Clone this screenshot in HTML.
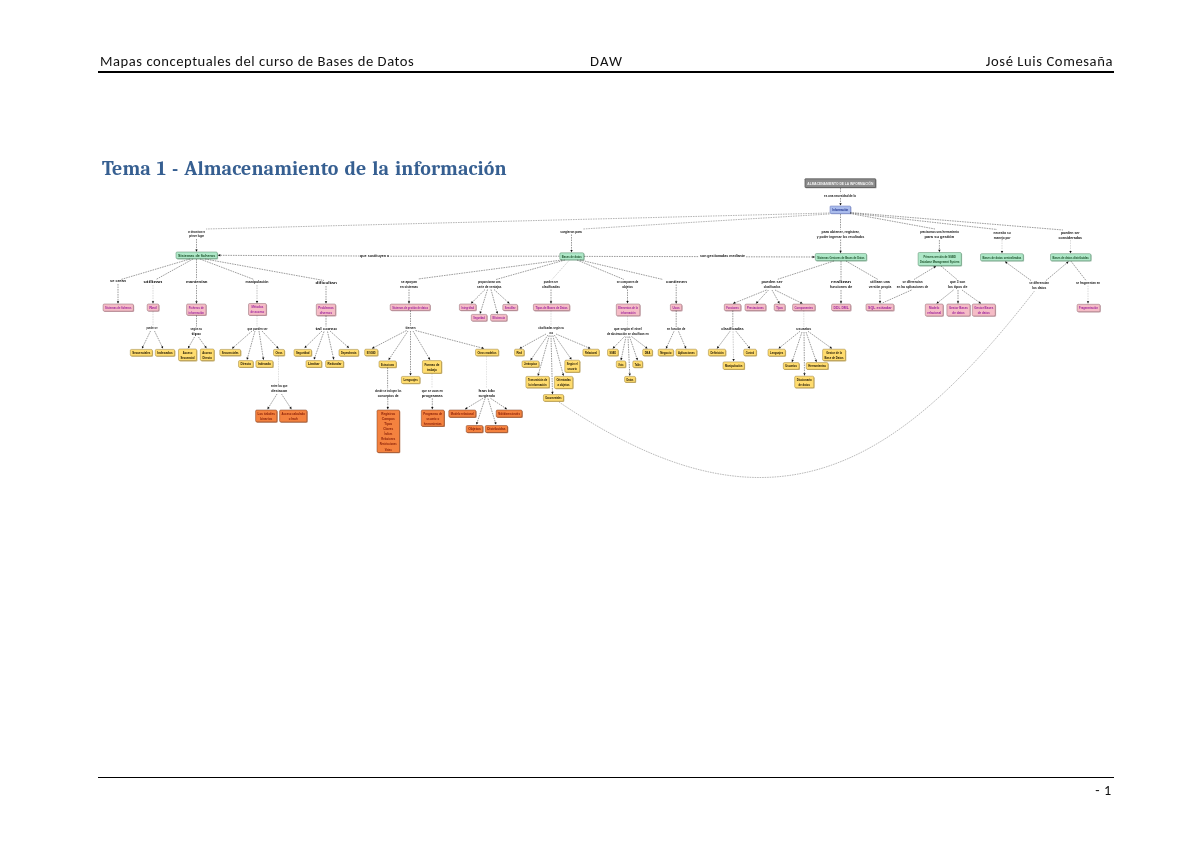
<!DOCTYPE html>
<html lang="es">
<head>
<meta charset="utf-8">
<title>Mapas conceptuales del curso de Bases de Datos</title>
<style>
html,body{margin:0;padding:0;background:#fff;}
body{width:1200px;height:849px;position:relative;overflow:hidden;}
.hd{will-change:transform;position:absolute;font-family:"Carlito","Liberation Sans",sans-serif;font-size:14.6px;color:#111;white-space:nowrap;line-height:1;}
.rule{position:absolute;background:#000;}
.title{will-change:transform;position:absolute;left:101px;top:159px;font-family:"Caladea","Liberation Serif",serif;font-weight:bold;font-size:20px;color:#365f91;white-space:nowrap;line-height:1;letter-spacing:0.33px;}
svg{position:absolute;left:0;top:0;will-change:transform;}
svg text{font-family:"Liberation Sans",Arial,sans-serif;text-anchor:middle;}
</style>
</head>
<body>
<svg width="1200" height="849" viewBox="0 0 1200 849">
<text x="100" y="65.7" font-size="14.6" fill="#111" style="font-family:Carlito,'Liberation Sans',sans-serif;text-anchor:start" textLength="313.8" lengthAdjust="spacing">Mapas conceptuales del curso de Bases de Datos</text>
<text x="590" y="65.7" font-size="14.6" fill="#111" style="font-family:Carlito,'Liberation Sans',sans-serif;text-anchor:start" textLength="32.0" lengthAdjust="spacing">DAW</text>
<text x="985.8" y="65.7" font-size="14.6" fill="#111" style="font-family:Carlito,'Liberation Sans',sans-serif;text-anchor:start" textLength="126.6" lengthAdjust="spacing">José Luis Comesaña</text>
<text x="102" y="175.0" font-size="20" font-weight="bold" fill="#365f91" textLength="404.6" lengthAdjust="spacing" style="font-family:Caladea,'Liberation Serif',serif;text-anchor:start;word-spacing:1.5px">Tema 1 - Almacenamiento de la información</text>
<text x="1095.3" y="794.9" font-size="14.2" fill="#111" style="font-family:Carlito,'Liberation Sans',sans-serif;text-anchor:start" textLength="15.8" lengthAdjust="spacing">- 1</text>
<rect x="805.80" y="179.60" width="70.60" height="8.70" rx="0.4" fill="#6a6a6a" opacity="0.75"/>
<rect x="805.00" y="178.80" width="70.60" height="8.70" rx="0.4" fill="#8a8a8a" stroke="#5a5a5a" stroke-width="0.8"/>
<text x="840.30" y="184.70" font-size="4.3" fill="#f4f4f4" font-weight="bold" textLength="66.00" lengthAdjust="spacingAndGlyphs">ALMACENAMIENTO DE LA INFORMACIÓN</text>
<line x1="840.50" y1="188.00" x2="840.50" y2="205.50" stroke="#3a3a3a" stroke-width="0.5" stroke-dasharray="1.6 0.9"/>
<path d="M840.50,205.50 L839.30,203.20 L841.70,203.20 Z" fill="#111"/>
<rect x="822" y="193.2" width="36" height="4.6" fill="#fff"/>
<text x="840.00" y="196.55" font-size="4.3" fill="#111" font-weight="bold" textLength="32.00" lengthAdjust="spacingAndGlyphs">es una necesidad de la</text>
<rect x="830.80" y="206.80" width="20.60" height="7.50" rx="0.8" fill="#8090c8" opacity="0.75"/>
<rect x="830.00" y="206.00" width="20.60" height="7.50" rx="0.8" fill="#aabcec" stroke="#6676b8" stroke-width="0.5"/>
<text x="840.30" y="211.23" font-size="4.1" fill="#1c2f8c" font-weight="bold" textLength="16.00" lengthAdjust="spacingAndGlyphs">Información</text>
<line x1="829.50" y1="213.00" x2="206.00" y2="229.00" stroke="#3a3a3a" stroke-width="0.5" stroke-dasharray="1.6 0.9" opacity="0.75"/>
<line x1="829.50" y1="214.00" x2="583.00" y2="229.00" stroke="#3a3a3a" stroke-width="0.5" stroke-dasharray="1.6 0.9" opacity="0.75"/>
<line x1="850.00" y1="213.50" x2="935.00" y2="229.00" stroke="#3a3a3a" stroke-width="0.5" stroke-dasharray="1.6 0.9"/>
<line x1="850.00" y1="213.00" x2="997.00" y2="229.50" stroke="#3a3a3a" stroke-width="0.5" stroke-dasharray="1.6 0.9"/>
<line x1="850.00" y1="212.50" x2="1063.00" y2="230.00" stroke="#3a3a3a" stroke-width="0.5" stroke-dasharray="1.6 0.9"/>
<line x1="840.50" y1="214.00" x2="840.50" y2="229.50" stroke="#3a3a3a" stroke-width="0.5" stroke-dasharray="1.6 0.9"/>
<text x="840.60" y="233.05" font-size="4.3" fill="#111" font-weight="bold" textLength="38.00" lengthAdjust="spacingAndGlyphs">para obtener, registrar,</text>
<text x="840.60" y="237.85" font-size="4.3" fill="#111" font-weight="bold" textLength="47.50" lengthAdjust="spacingAndGlyphs">y poder ingresar los resultados</text>
<line x1="840.60" y1="239.50" x2="840.60" y2="253.00" stroke="#3a3a3a" stroke-width="0.5" stroke-dasharray="1.6 0.9"/>
<path d="M840.60,253.00 L839.40,250.70 L841.80,250.70 Z" fill="#111"/>
<text x="196.50" y="232.95" font-size="4.3" fill="#111" font-weight="bold" textLength="17.00" lengthAdjust="spacingAndGlyphs">se denominan en</text>
<text x="196.50" y="237.45" font-size="4.3" fill="#111" font-weight="bold" textLength="15.00" lengthAdjust="spacingAndGlyphs">primer lugar</text>
<line x1="196.50" y1="239.00" x2="196.50" y2="251.80" stroke="#3a3a3a" stroke-width="0.5" stroke-dasharray="1.6 0.9"/>
<path d="M196.50,251.80 L195.30,249.50 L197.70,249.50 Z" fill="#111"/>
<rect x="176.80" y="252.80" width="41.30" height="6.60" rx="1.2" fill="#7aa88c" opacity="0.75"/>
<rect x="176.00" y="252.00" width="41.30" height="6.60" rx="1.2" fill="#aee8c8" stroke="#5a8a6c" stroke-width="0.5"/>
<text x="196.65" y="256.78" font-size="4.1" fill="#1a4f28" font-weight="bold" textLength="37.30" lengthAdjust="spacingAndGlyphs">Sistemas de ficheros</text>
<line x1="559.50" y1="256.20" x2="390.00" y2="256.20" stroke="#3a3a3a" stroke-width="0.5" stroke-dasharray="1.6 0.9"/>
<line x1="359.50" y1="256.00" x2="218.00" y2="255.30" stroke="#3a3a3a" stroke-width="0.5" stroke-dasharray="1.6 0.9"/>
<path d="M218.00,255.30 L220.31,254.11 L220.29,256.51 Z" fill="#111"/>
<text x="374.60" y="257.15" font-size="4.3" fill="#111" font-weight="bold" textLength="29.00" lengthAdjust="spacingAndGlyphs">que sustituyen a</text>
<line x1="190.00" y1="259.00" x2="121.00" y2="279.50" stroke="#3a3a3a" stroke-width="0.5" stroke-dasharray="1.6 0.9"/>
<line x1="193.00" y1="259.00" x2="156.00" y2="279.50" stroke="#3a3a3a" stroke-width="0.5" stroke-dasharray="1.6 0.9"/>
<line x1="196.50" y1="259.00" x2="196.50" y2="279.50" stroke="#3a3a3a" stroke-width="0.5" stroke-dasharray="1.6 0.9"/>
<line x1="200.00" y1="259.00" x2="254.00" y2="279.50" stroke="#3a3a3a" stroke-width="0.5" stroke-dasharray="1.6 0.9"/>
<line x1="205.00" y1="259.00" x2="324.00" y2="280.50" stroke="#3a3a3a" stroke-width="0.5" stroke-dasharray="1.6 0.9"/>
<text x="118.00" y="282.25" font-size="4.3" fill="#111" font-weight="bold" textLength="16.00" lengthAdjust="spacingAndGlyphs">se crean</text>
<text x="153.00" y="282.95" font-size="4.3" fill="#111" font-weight="bold" textLength="19.00" lengthAdjust="spacingAndGlyphs">utilizan</text>
<text x="196.70" y="282.95" font-size="4.3" fill="#111" font-weight="bold" textLength="21.50" lengthAdjust="spacingAndGlyphs">mantenían</text>
<text x="257.00" y="282.95" font-size="4.3" fill="#111" font-weight="bold" textLength="23.00" lengthAdjust="spacingAndGlyphs">manipulación</text>
<text x="326.20" y="283.95" font-size="4.3" fill="#111" font-weight="bold" textLength="21.30" lengthAdjust="spacingAndGlyphs">dificultan</text>
<line x1="118.00" y1="284.00" x2="118.00" y2="303.60" stroke="#3a3a3a" stroke-width="0.5" stroke-dasharray="1.6 0.9"/>
<path d="M118.00,303.60 L116.80,301.30 L119.20,301.30 Z" fill="#111"/>
<line x1="153.00" y1="285.00" x2="153.00" y2="303.60" stroke="#3a3a3a" stroke-width="0.5" stroke-dasharray="1.6 0.9" opacity="0.35"/>
<path d="M153.00,303.60 L151.80,301.30 L154.20,301.30 Z" fill="#111"/>
<line x1="196.50" y1="285.00" x2="196.50" y2="303.60" stroke="#3a3a3a" stroke-width="0.5" stroke-dasharray="1.6 0.9"/>
<path d="M196.50,303.60 L195.30,301.30 L197.70,301.30 Z" fill="#111"/>
<line x1="257.00" y1="285.00" x2="257.00" y2="303.20" stroke="#3a3a3a" stroke-width="0.5" stroke-dasharray="1.6 0.9" opacity="0.6"/>
<path d="M257.00,303.20 L255.80,300.90 L258.20,300.90 Z" fill="#111"/>
<line x1="326.00" y1="286.00" x2="326.00" y2="303.60" stroke="#3a3a3a" stroke-width="0.5" stroke-dasharray="1.6 0.9"/>
<path d="M326.00,303.60 L324.80,301.30 L327.20,301.30 Z" fill="#111"/>
<rect x="103.90" y="304.80" width="30.30" height="7.20" rx="1.2" fill="#b88a94" opacity="0.75"/>
<rect x="103.10" y="304.00" width="30.30" height="7.20" rx="1.2" fill="#f5bcc6" stroke="#8e6870" stroke-width="0.5"/>
<text x="118.25" y="309.08" font-size="4.1" fill="#9a1f9c" font-weight="bold" textLength="26.30" lengthAdjust="spacingAndGlyphs">Sistemas de ficheros</text>
<rect x="148.00" y="304.80" width="11.60" height="7.00" rx="1.2" fill="#b88a94" opacity="0.75"/>
<rect x="147.20" y="304.00" width="11.60" height="7.00" rx="1.2" fill="#f5bcc6" stroke="#8e6870" stroke-width="0.5"/>
<text x="153.00" y="308.98" font-size="4.1" fill="#9a1f9c" font-weight="bold" textLength="7.60" lengthAdjust="spacingAndGlyphs">Red</text>
<rect x="187.40" y="304.80" width="19.40" height="11.20" rx="1.2" fill="#b88a94" opacity="0.75"/>
<rect x="186.60" y="304.00" width="19.40" height="11.20" rx="1.2" fill="#f5bcc6" stroke="#8e6870" stroke-width="0.5"/>
<text x="196.30" y="308.63" font-size="4.1" fill="#9a1f9c" font-weight="bold" textLength="15.10" lengthAdjust="spacingAndGlyphs">Ficheros de</text>
<text x="196.30" y="313.53" font-size="4.1" fill="#9a1f9c" font-weight="bold" textLength="15.40" lengthAdjust="spacingAndGlyphs">información</text>
<rect x="249.30" y="304.30" width="17.80" height="11.80" rx="1.2" fill="#b88a94" opacity="0.75"/>
<rect x="248.50" y="303.50" width="17.80" height="11.80" rx="1.2" fill="#f5bcc6" stroke="#8e6870" stroke-width="0.5"/>
<text x="257.40" y="308.43" font-size="4.1" fill="#9a1f9c" font-weight="bold" textLength="11.73" lengthAdjust="spacingAndGlyphs">Métodos</text>
<text x="257.40" y="313.33" font-size="4.1" fill="#9a1f9c" font-weight="bold" textLength="13.80" lengthAdjust="spacingAndGlyphs">de acceso</text>
<rect x="317.10" y="304.80" width="19.30" height="11.60" rx="1.2" fill="#b88a94" opacity="0.75"/>
<rect x="316.30" y="304.00" width="19.30" height="11.60" rx="1.2" fill="#f5bcc6" stroke="#8e6870" stroke-width="0.5"/>
<text x="325.95" y="308.83" font-size="4.1" fill="#9a1f9c" font-weight="bold" textLength="15.30" lengthAdjust="spacingAndGlyphs">Problemas</text>
<text x="325.95" y="313.73" font-size="4.1" fill="#9a1f9c" font-weight="bold" textLength="12.31" lengthAdjust="spacingAndGlyphs">diversos</text>
<line x1="153.00" y1="311.20" x2="153.00" y2="326.50" stroke="#3a3a3a" stroke-width="0.5" stroke-dasharray="1.6 0.9" opacity="0.35"/>
<text x="152.00" y="329.45" font-size="4.3" fill="#111" font-weight="bold" textLength="11.00" lengthAdjust="spacingAndGlyphs">pueden ser</text>
<line x1="150.50" y1="331.00" x2="142.00" y2="348.50" stroke="#3a3a3a" stroke-width="0.5" stroke-dasharray="1.6 0.9"/>
<path d="M142.00,348.50 L141.93,345.91 L144.08,346.96 Z" fill="#111"/>
<line x1="154.50" y1="331.00" x2="163.00" y2="348.50" stroke="#3a3a3a" stroke-width="0.5" stroke-dasharray="1.6 0.9"/>
<path d="M163.00,348.50 L160.92,346.96 L163.07,345.91 Z" fill="#111"/>
<rect x="131.10" y="350.20" width="22.00" height="6.50" rx="1.2" fill="#b59a4a" opacity="0.75"/>
<rect x="130.30" y="349.40" width="22.00" height="6.50" rx="1.2" fill="#ffdc6e" stroke="#9a8240" stroke-width="0.5"/>
<text x="141.30" y="354.13" font-size="4.1" fill="#1a1200" font-weight="bold" textLength="18.00" lengthAdjust="spacingAndGlyphs">Secuenciales</text>
<rect x="156.10" y="350.20" width="19.30" height="6.60" rx="1.2" fill="#b59a4a" opacity="0.75"/>
<rect x="155.30" y="349.40" width="19.30" height="6.60" rx="1.2" fill="#ffdc6e" stroke="#9a8240" stroke-width="0.5"/>
<text x="164.95" y="354.18" font-size="4.1" fill="#1a1200" font-weight="bold" textLength="15.30" lengthAdjust="spacingAndGlyphs">Indexados</text>
<line x1="196.50" y1="315.30" x2="196.50" y2="326.50" stroke="#3a3a3a" stroke-width="0.5" stroke-dasharray="1.6 0.9"/>
<text x="196.30" y="329.95" font-size="4.3" fill="#111" font-weight="bold" textLength="11.60" lengthAdjust="spacingAndGlyphs">según su</text>
<text x="196.30" y="335.35" font-size="4.3" fill="#111" font-weight="bold" textLength="9.40" lengthAdjust="spacingAndGlyphs">tipo</text>
<line x1="194.50" y1="337.00" x2="188.00" y2="348.30" stroke="#3a3a3a" stroke-width="0.5" stroke-dasharray="1.6 0.9"/>
<path d="M188.00,348.30 L188.11,345.71 L190.19,346.90 Z" fill="#111"/>
<line x1="198.50" y1="337.00" x2="206.50" y2="348.30" stroke="#3a3a3a" stroke-width="0.5" stroke-dasharray="1.6 0.9"/>
<path d="M206.50,348.30 L204.19,347.12 L206.15,345.73 Z" fill="#111"/>
<rect x="179.30" y="349.80" width="18.10" height="11.60" rx="1.2" fill="#b59a4a" opacity="0.75"/>
<rect x="178.50" y="349.00" width="18.10" height="11.60" rx="1.2" fill="#ffdc6e" stroke="#9a8240" stroke-width="0.5"/>
<text x="187.55" y="353.83" font-size="4.1" fill="#1a1200" font-weight="bold" textLength="9.60" lengthAdjust="spacingAndGlyphs">Acceso</text>
<text x="187.55" y="358.73" font-size="4.1" fill="#1a1200" font-weight="bold" textLength="14.10" lengthAdjust="spacingAndGlyphs">Secuencial</text>
<rect x="201.10" y="349.80" width="13.70" height="11.60" rx="1.2" fill="#b59a4a" opacity="0.75"/>
<rect x="200.30" y="349.00" width="13.70" height="11.60" rx="1.2" fill="#ffdc6e" stroke="#9a8240" stroke-width="0.5"/>
<text x="207.15" y="353.83" font-size="4.1" fill="#1a1200" font-weight="bold" textLength="9.70" lengthAdjust="spacingAndGlyphs">Acceso</text>
<text x="207.15" y="358.73" font-size="4.1" fill="#1a1200" font-weight="bold" textLength="9.39" lengthAdjust="spacingAndGlyphs">Directo</text>
<line x1="257.00" y1="315.30" x2="257.00" y2="326.50" stroke="#3a3a3a" stroke-width="0.5" stroke-dasharray="1.6 0.9" opacity="0.35"/>
<text x="257.50" y="329.75" font-size="4.3" fill="#111" font-weight="bold" textLength="20.00" lengthAdjust="spacingAndGlyphs">que pueden ser</text>
<line x1="252.00" y1="331.00" x2="232.00" y2="348.60" stroke="#3a3a3a" stroke-width="0.5" stroke-dasharray="1.6 0.9"/>
<path d="M232.00,348.60 L232.93,346.18 L234.52,347.98 Z" fill="#111"/>
<line x1="255.00" y1="331.00" x2="247.00" y2="359.80" stroke="#3a3a3a" stroke-width="0.5" stroke-dasharray="1.6 0.9"/>
<path d="M247.00,359.80 L246.46,357.26 L248.77,357.91 Z" fill="#111"/>
<line x1="259.00" y1="331.00" x2="263.50" y2="359.80" stroke="#3a3a3a" stroke-width="0.5" stroke-dasharray="1.6 0.9"/>
<path d="M263.50,359.80 L261.96,357.71 L264.33,357.34 Z" fill="#111"/>
<line x1="262.00" y1="331.00" x2="278.50" y2="348.60" stroke="#3a3a3a" stroke-width="0.5" stroke-dasharray="1.6 0.9"/>
<path d="M278.50,348.60 L276.05,347.74 L277.80,346.10 Z" fill="#111"/>
<rect x="220.60" y="350.20" width="20.80" height="6.20" rx="1.2" fill="#b59a4a" opacity="0.75"/>
<rect x="219.80" y="349.40" width="20.80" height="6.20" rx="1.2" fill="#ffdc6e" stroke="#9a8240" stroke-width="0.5"/>
<text x="230.20" y="353.98" font-size="4.1" fill="#1a1200" font-weight="bold" textLength="16.80" lengthAdjust="spacingAndGlyphs">Secuenciales</text>
<rect x="239.30" y="361.40" width="14.60" height="6.70" rx="1.2" fill="#b59a4a" opacity="0.75"/>
<rect x="238.50" y="360.60" width="14.60" height="6.70" rx="1.2" fill="#ffdc6e" stroke="#9a8240" stroke-width="0.5"/>
<text x="245.80" y="365.43" font-size="4.1" fill="#1a1200" font-weight="bold" textLength="10.60" lengthAdjust="spacingAndGlyphs">Directo</text>
<rect x="256.70" y="361.40" width="17.00" height="6.70" rx="1.2" fill="#b59a4a" opacity="0.75"/>
<rect x="255.90" y="360.60" width="17.00" height="6.70" rx="1.2" fill="#ffdc6e" stroke="#9a8240" stroke-width="0.5"/>
<text x="264.40" y="365.43" font-size="4.1" fill="#1a1200" font-weight="bold" textLength="13.00" lengthAdjust="spacingAndGlyphs">Indexado</text>
<rect x="274.30" y="350.20" width="10.90" height="6.20" rx="1.2" fill="#b59a4a" opacity="0.75"/>
<rect x="273.50" y="349.40" width="10.90" height="6.20" rx="1.2" fill="#ffdc6e" stroke="#9a8240" stroke-width="0.5"/>
<text x="278.95" y="353.98" font-size="4.1" fill="#1a1200" font-weight="bold" textLength="6.90" lengthAdjust="spacingAndGlyphs">Otros</text>
<line x1="278.50" y1="355.80" x2="278.50" y2="384.00" stroke="#3a3a3a" stroke-width="0.5" stroke-dasharray="1.6 0.9" opacity="0.3"/>
<text x="279.20" y="387.45" font-size="4.3" fill="#111" font-weight="bold" textLength="16.50" lengthAdjust="spacingAndGlyphs">entre los que</text>
<text x="279.20" y="392.45" font-size="4.3" fill="#111" font-weight="bold" textLength="16.00" lengthAdjust="spacingAndGlyphs">destacan</text>
<line x1="277.00" y1="394.00" x2="267.50" y2="409.20" stroke="#3a3a3a" stroke-width="0.5" stroke-dasharray="1.6 0.9"/>
<path d="M267.50,409.20 L267.70,406.61 L269.74,407.89 Z" fill="#111"/>
<line x1="281.50" y1="394.00" x2="291.50" y2="409.20" stroke="#3a3a3a" stroke-width="0.5" stroke-dasharray="1.6 0.9"/>
<path d="M291.50,409.20 L289.23,407.94 L291.24,406.62 Z" fill="#111"/>
<rect x="256.40" y="410.80" width="21.30" height="11.90" rx="1.2" fill="#a8582c" opacity="0.75"/>
<rect x="255.60" y="410.00" width="21.30" height="11.90" rx="1.2" fill="#f4823f" stroke="#7a4028" stroke-width="0.5"/>
<text x="266.25" y="414.98" font-size="4.1" fill="#861c06" font-weight="bold" textLength="17.30" lengthAdjust="spacingAndGlyphs">Los árboles</text>
<text x="266.25" y="419.88" font-size="4.1" fill="#861c06" font-weight="bold" textLength="11.99" lengthAdjust="spacingAndGlyphs">binarios</text>
<rect x="280.40" y="410.80" width="27.30" height="12.00" rx="1.2" fill="#a8582c" opacity="0.75"/>
<rect x="279.60" y="410.00" width="27.30" height="12.00" rx="1.2" fill="#f4823f" stroke="#7a4028" stroke-width="0.5"/>
<text x="293.25" y="415.03" font-size="4.1" fill="#861c06" font-weight="bold" textLength="23.30" lengthAdjust="spacingAndGlyphs">Acceso calculado</text>
<text x="293.25" y="419.93" font-size="4.1" fill="#861c06" font-weight="bold" textLength="8.89" lengthAdjust="spacingAndGlyphs">o hash</text>
<line x1="326.00" y1="315.60" x2="326.00" y2="326.50" stroke="#3a3a3a" stroke-width="0.5" stroke-dasharray="1.6 0.9"/>
<text x="326.20" y="329.95" font-size="4.3" fill="#111" font-weight="bold" textLength="21.30" lengthAdjust="spacingAndGlyphs">tal como</text>
<line x1="322.00" y1="331.00" x2="304.50" y2="348.00" stroke="#3a3a3a" stroke-width="0.5" stroke-dasharray="1.6 0.9"/>
<path d="M304.50,348.00 L305.31,345.54 L306.99,347.26 Z" fill="#111"/>
<line x1="324.00" y1="331.50" x2="314.00" y2="359.60" stroke="#3a3a3a" stroke-width="0.5" stroke-dasharray="1.6 0.9"/>
<path d="M314.00,359.60 L313.64,357.03 L315.90,357.84 Z" fill="#111"/>
<line x1="327.50" y1="331.50" x2="333.80" y2="359.60" stroke="#3a3a3a" stroke-width="0.5" stroke-dasharray="1.6 0.9"/>
<path d="M333.80,359.60 L332.13,357.62 L334.47,357.09 Z" fill="#111"/>
<line x1="330.00" y1="331.00" x2="349.00" y2="348.00" stroke="#3a3a3a" stroke-width="0.5" stroke-dasharray="1.6 0.9"/>
<path d="M349.00,348.00 L346.49,347.36 L348.09,345.57 Z" fill="#111"/>
<rect x="294.80" y="350.20" width="17.50" height="6.60" rx="1.2" fill="#b59a4a" opacity="0.75"/>
<rect x="294.00" y="349.40" width="17.50" height="6.60" rx="1.2" fill="#ffdc6e" stroke="#9a8240" stroke-width="0.5"/>
<text x="302.75" y="354.18" font-size="4.1" fill="#1a1200" font-weight="bold" textLength="13.50" lengthAdjust="spacingAndGlyphs">Seguridad</text>
<rect x="306.80" y="361.40" width="15.60" height="6.70" rx="1.2" fill="#b59a4a" opacity="0.75"/>
<rect x="306.00" y="360.60" width="15.60" height="6.70" rx="1.2" fill="#ffdc6e" stroke="#9a8240" stroke-width="0.5"/>
<text x="313.80" y="365.43" font-size="4.1" fill="#1a1200" font-weight="bold" textLength="11.60" lengthAdjust="spacingAndGlyphs">Limitar</text>
<rect x="326.40" y="361.40" width="17.90" height="6.70" rx="1.2" fill="#b59a4a" opacity="0.75"/>
<rect x="325.60" y="360.60" width="17.90" height="6.70" rx="1.2" fill="#ffdc6e" stroke="#9a8240" stroke-width="0.5"/>
<text x="334.55" y="365.43" font-size="4.1" fill="#1a1200" font-weight="bold" textLength="13.90" lengthAdjust="spacingAndGlyphs">Redundar</text>
<rect x="339.80" y="350.20" width="19.50" height="6.60" rx="1.2" fill="#b59a4a" opacity="0.75"/>
<rect x="339.00" y="349.40" width="19.50" height="6.60" rx="1.2" fill="#ffdc6e" stroke="#9a8240" stroke-width="0.5"/>
<text x="348.75" y="354.18" font-size="4.1" fill="#1a1200" font-weight="bold" textLength="15.50" lengthAdjust="spacingAndGlyphs">Dependencia</text>
<text x="571.00" y="233.05" font-size="4.3" fill="#111" font-weight="bold" textLength="21.60" lengthAdjust="spacingAndGlyphs">surgieron para</text>
<line x1="571.50" y1="234.50" x2="571.50" y2="252.20" stroke="#3a3a3a" stroke-width="0.5" stroke-dasharray="1.6 0.9"/>
<path d="M571.50,252.20 L570.30,249.90 L572.70,249.90 Z" fill="#111"/>
<rect x="560.60" y="253.60" width="24.00" height="7.00" rx="1.2" fill="#7aa88c" opacity="0.75"/>
<rect x="559.80" y="252.80" width="24.00" height="7.00" rx="1.2" fill="#aee8c8" stroke="#5a8a6c" stroke-width="0.5"/>
<text x="571.80" y="257.78" font-size="4.1" fill="#1a4f28" font-weight="bold" textLength="20.00" lengthAdjust="spacingAndGlyphs">Bases de datos</text>
<line x1="584.00" y1="256.40" x2="699.00" y2="256.60" stroke="#3a3a3a" stroke-width="0.5" stroke-dasharray="1.6 0.9"/>
<line x1="746.00" y1="256.80" x2="814.80" y2="257.00" stroke="#3a3a3a" stroke-width="0.5" stroke-dasharray="1.6 0.9"/>
<path d="M814.80,257.00 L812.50,258.19 L812.50,255.79 Z" fill="#111"/>
<text x="722.50" y="257.45" font-size="4.3" fill="#111" font-weight="bold" textLength="45.00" lengthAdjust="spacingAndGlyphs">son gestionadas mediante</text>
<line x1="562.00" y1="260.00" x2="418.00" y2="279.00" stroke="#3a3a3a" stroke-width="0.5" stroke-dasharray="1.6 0.9"/>
<line x1="565.00" y1="260.00" x2="496.00" y2="279.50" stroke="#3a3a3a" stroke-width="0.5" stroke-dasharray="1.6 0.9"/>
<line x1="569.00" y1="260.50" x2="552.00" y2="279.50" stroke="#3a3a3a" stroke-width="0.5" stroke-dasharray="1.6 0.9" opacity="0.45"/>
<line x1="577.00" y1="260.00" x2="624.00" y2="279.50" stroke="#3a3a3a" stroke-width="0.5" stroke-dasharray="1.6 0.9"/>
<line x1="580.00" y1="260.00" x2="663.00" y2="279.50" stroke="#3a3a3a" stroke-width="0.5" stroke-dasharray="1.6 0.9"/>
<text x="409.00" y="282.95" font-size="4.3" fill="#111" font-weight="bold" textLength="16.00" lengthAdjust="spacingAndGlyphs">se apoyan</text>
<text x="409.00" y="287.95" font-size="4.3" fill="#111" font-weight="bold" textLength="18.20" lengthAdjust="spacingAndGlyphs">en sistemas</text>
<text x="489.20" y="282.95" font-size="4.3" fill="#111" font-weight="bold" textLength="22.60" lengthAdjust="spacingAndGlyphs">proporcionan una</text>
<text x="489.20" y="287.95" font-size="4.3" fill="#111" font-weight="bold" textLength="24.30" lengthAdjust="spacingAndGlyphs">serie de ventajas</text>
<text x="551.00" y="282.95" font-size="4.3" fill="#111" font-weight="bold" textLength="14.30" lengthAdjust="spacingAndGlyphs">pueden ser</text>
<text x="551.00" y="287.95" font-size="4.3" fill="#111" font-weight="bold" textLength="17.80" lengthAdjust="spacingAndGlyphs">clasificadas</text>
<text x="627.60" y="282.95" font-size="4.3" fill="#111" font-weight="bold" textLength="21.60" lengthAdjust="spacingAndGlyphs">se componen de</text>
<text x="627.60" y="287.95" font-size="4.3" fill="#111" font-weight="bold" textLength="10.90" lengthAdjust="spacingAndGlyphs">objetos</text>
<text x="676.40" y="282.95" font-size="4.3" fill="#111" font-weight="bold" textLength="20.90" lengthAdjust="spacingAndGlyphs">contienen</text>
<line x1="409.00" y1="289.50" x2="409.00" y2="303.60" stroke="#3a3a3a" stroke-width="0.5" stroke-dasharray="1.6 0.9"/>
<path d="M409.00,303.60 L407.80,301.30 L410.20,301.30 Z" fill="#111"/>
<rect x="391.00" y="304.90" width="39.90" height="6.30" rx="1.2" fill="#b88a94" opacity="0.75"/>
<rect x="390.20" y="304.10" width="39.90" height="6.30" rx="1.2" fill="#f5bcc6" stroke="#8e6870" stroke-width="0.5"/>
<text x="410.15" y="308.73" font-size="4.1" fill="#9a1f9c" font-weight="bold" textLength="35.90" lengthAdjust="spacingAndGlyphs">Sistemas de gestión de datos</text>
<line x1="410.50" y1="310.40" x2="410.50" y2="326.00" stroke="#3a3a3a" stroke-width="0.5" stroke-dasharray="1.6 0.9"/>
<text x="410.50" y="329.15" font-size="4.3" fill="#111" font-weight="bold" textLength="10.10" lengthAdjust="spacingAndGlyphs">tienen</text>
<line x1="406.50" y1="330.50" x2="372.00" y2="348.50" stroke="#3a3a3a" stroke-width="0.5" stroke-dasharray="1.6 0.9"/>
<path d="M372.00,348.50 L373.48,346.37 L374.59,348.50 Z" fill="#111"/>
<line x1="408.00" y1="331.00" x2="388.50" y2="360.10" stroke="#3a3a3a" stroke-width="0.5" stroke-dasharray="1.6 0.9"/>
<path d="M388.50,360.10 L388.78,357.52 L390.78,358.86 Z" fill="#111"/>
<line x1="410.50" y1="331.00" x2="410.50" y2="375.60" stroke="#3a3a3a" stroke-width="0.5" stroke-dasharray="1.6 0.9"/>
<path d="M410.50,375.60 L409.30,373.30 L411.70,373.30 Z" fill="#111"/>
<line x1="413.00" y1="331.00" x2="430.00" y2="359.80" stroke="#3a3a3a" stroke-width="0.5" stroke-dasharray="1.6 0.9"/>
<path d="M430.00,359.80 L427.80,358.43 L429.86,357.21 Z" fill="#111"/>
<line x1="415.50" y1="330.50" x2="484.00" y2="348.50" stroke="#3a3a3a" stroke-width="0.5" stroke-dasharray="1.6 0.9"/>
<path d="M484.00,348.50 L481.47,349.08 L482.08,346.75 Z" fill="#111"/>
<rect x="365.50" y="350.00" width="13.00" height="6.50" rx="1.2" fill="#b59a4a" opacity="0.75"/>
<rect x="364.70" y="349.20" width="13.00" height="6.50" rx="1.2" fill="#ffdc6e" stroke="#9a8240" stroke-width="0.5"/>
<text x="371.20" y="353.93" font-size="4.1" fill="#1a1200" font-weight="bold" textLength="9.00" lengthAdjust="spacingAndGlyphs">El SGBD</text>
<rect x="379.80" y="361.70" width="17.20" height="6.50" rx="1.2" fill="#b59a4a" opacity="0.75"/>
<rect x="379.00" y="360.90" width="17.20" height="6.50" rx="1.2" fill="#ffdc6e" stroke="#9a8240" stroke-width="0.5"/>
<text x="387.60" y="365.63" font-size="4.1" fill="#1a1200" font-weight="bold" textLength="13.20" lengthAdjust="spacingAndGlyphs">Estructuras</text>
<rect x="402.20" y="377.20" width="18.40" height="7.10" rx="1.2" fill="#b59a4a" opacity="0.75"/>
<rect x="401.40" y="376.40" width="18.40" height="7.10" rx="1.2" fill="#ffdc6e" stroke="#9a8240" stroke-width="0.5"/>
<text x="410.60" y="381.43" font-size="4.1" fill="#1a1200" font-weight="bold" textLength="14.40" lengthAdjust="spacingAndGlyphs">Lenguajes</text>
<rect x="423.20" y="361.40" width="19.10" height="12.60" rx="1.2" fill="#b59a4a" opacity="0.75"/>
<rect x="422.40" y="360.60" width="19.10" height="12.60" rx="1.2" fill="#ffdc6e" stroke="#9a8240" stroke-width="0.5"/>
<text x="431.95" y="365.93" font-size="4.1" fill="#1a1200" font-weight="bold" textLength="15.10" lengthAdjust="spacingAndGlyphs">Formas de</text>
<text x="431.95" y="370.83" font-size="4.1" fill="#1a1200" font-weight="bold" textLength="9.95" lengthAdjust="spacingAndGlyphs">trabajo</text>
<rect x="476.30" y="350.00" width="23.00" height="6.50" rx="1.2" fill="#b59a4a" opacity="0.75"/>
<rect x="475.50" y="349.20" width="23.00" height="6.50" rx="1.2" fill="#ffdc6e" stroke="#9a8240" stroke-width="0.5"/>
<text x="487.00" y="353.93" font-size="4.1" fill="#1a1200" font-weight="bold" textLength="19.00" lengthAdjust="spacingAndGlyphs">Otros modelos</text>
<line x1="387.60" y1="367.40" x2="387.60" y2="388.30" stroke="#3a3a3a" stroke-width="0.5" stroke-dasharray="1.6 0.9"/>
<text x="388.20" y="391.85" font-size="4.3" fill="#111" font-weight="bold" textLength="26.40" lengthAdjust="spacingAndGlyphs">donde se incluyen los</text>
<text x="388.20" y="396.85" font-size="4.3" fill="#111" font-weight="bold" textLength="21.00" lengthAdjust="spacingAndGlyphs">conceptos de</text>
<line x1="387.80" y1="398.30" x2="387.80" y2="409.20" stroke="#3a3a3a" stroke-width="0.5" stroke-dasharray="1.6 0.9"/>
<path d="M387.80,409.20 L386.60,406.90 L389.00,406.90 Z" fill="#111"/>
<rect x="377.80" y="410.80" width="22.50" height="42.50" rx="1.2" fill="#a8582c" opacity="0.75"/>
<rect x="377.00" y="410.00" width="22.50" height="42.50" rx="1.2" fill="#f4823f" stroke="#7a4028" stroke-width="0.5"/>
<text x="388.25" y="414.88" font-size="4.1" fill="#861c06" font-weight="bold" textLength="14.00" lengthAdjust="spacingAndGlyphs">Registros</text>
<text x="388.25" y="419.98" font-size="4.1" fill="#861c06" font-weight="bold" textLength="13.00" lengthAdjust="spacingAndGlyphs">Campos</text>
<text x="388.25" y="425.08" font-size="4.1" fill="#861c06" font-weight="bold" textLength="8.00" lengthAdjust="spacingAndGlyphs">Tipos</text>
<text x="388.25" y="430.18" font-size="4.1" fill="#861c06" font-weight="bold" textLength="10.00" lengthAdjust="spacingAndGlyphs">Claves</text>
<text x="388.25" y="435.28" font-size="4.1" fill="#861c06" font-weight="bold" textLength="8.00" lengthAdjust="spacingAndGlyphs">Índices</text>
<text x="388.25" y="440.38" font-size="4.1" fill="#861c06" font-weight="bold" textLength="14.00" lengthAdjust="spacingAndGlyphs">Relaciones</text>
<text x="388.25" y="445.48" font-size="4.1" fill="#861c06" font-weight="bold" textLength="17.00" lengthAdjust="spacingAndGlyphs">Restricciones</text>
<text x="388.25" y="450.58" font-size="4.1" fill="#861c06" font-weight="bold" textLength="7.00" lengthAdjust="spacingAndGlyphs">Vistas</text>
<line x1="432.00" y1="373.40" x2="432.00" y2="388.30" stroke="#3a3a3a" stroke-width="0.5" stroke-dasharray="1.6 0.9" opacity="0.3"/>
<text x="432.30" y="391.95" font-size="4.3" fill="#111" font-weight="bold" textLength="21.10" lengthAdjust="spacingAndGlyphs">que se usan en</text>
<text x="432.30" y="396.95" font-size="4.3" fill="#111" font-weight="bold" textLength="20.90" lengthAdjust="spacingAndGlyphs">programas</text>
<line x1="432.30" y1="398.30" x2="432.30" y2="409.20" stroke="#3a3a3a" stroke-width="0.5" stroke-dasharray="1.6 0.9"/>
<path d="M432.30,409.20 L431.10,406.90 L433.50,406.90 Z" fill="#111"/>
<rect x="422.10" y="410.80" width="22.90" height="16.30" rx="1.2" fill="#a8582c" opacity="0.75"/>
<rect x="421.30" y="410.00" width="22.90" height="16.30" rx="1.2" fill="#f4823f" stroke="#7a4028" stroke-width="0.5"/>
<text x="432.75" y="414.53" font-size="4.1" fill="#861c06" font-weight="bold" textLength="18.90" lengthAdjust="spacingAndGlyphs">Programas de</text>
<text x="432.75" y="419.63" font-size="4.1" fill="#861c06" font-weight="bold" textLength="12.75" lengthAdjust="spacingAndGlyphs">usuario o</text>
<text x="432.75" y="424.73" font-size="4.1" fill="#861c06" font-weight="bold" textLength="17.80" lengthAdjust="spacingAndGlyphs">herramientas</text>
<line x1="486.50" y1="356.00" x2="486.50" y2="388.30" stroke="#3a3a3a" stroke-width="0.5" stroke-dasharray="1.6 0.9" opacity="0.25"/>
<text x="486.70" y="391.95" font-size="4.3" fill="#111" font-weight="bold" textLength="16.20" lengthAdjust="spacingAndGlyphs">han ido</text>
<text x="486.70" y="396.95" font-size="4.3" fill="#111" font-weight="bold" textLength="16.60" lengthAdjust="spacingAndGlyphs">surgiendo</text>
<line x1="483.00" y1="398.30" x2="465.00" y2="409.20" stroke="#3a3a3a" stroke-width="0.5" stroke-dasharray="1.6 0.9"/>
<path d="M465.00,409.20 L466.35,406.98 L467.59,409.04 Z" fill="#111"/>
<line x1="485.00" y1="398.50" x2="476.50" y2="424.50" stroke="#3a3a3a" stroke-width="0.5" stroke-dasharray="1.6 0.9"/>
<path d="M476.50,424.50 L476.07,421.94 L478.36,422.69 Z" fill="#111"/>
<line x1="488.00" y1="398.50" x2="496.00" y2="424.50" stroke="#3a3a3a" stroke-width="0.5" stroke-dasharray="1.6 0.9"/>
<path d="M496.00,424.50 L494.18,422.65 L496.47,421.95 Z" fill="#111"/>
<line x1="490.50" y1="398.30" x2="507.00" y2="409.20" stroke="#3a3a3a" stroke-width="0.5" stroke-dasharray="1.6 0.9"/>
<path d="M507.00,409.20 L504.42,408.93 L505.74,406.93 Z" fill="#111"/>
<rect x="449.60" y="410.80" width="27.00" height="7.20" rx="1.2" fill="#a8582c" opacity="0.75"/>
<rect x="448.80" y="410.00" width="27.00" height="7.20" rx="1.2" fill="#f4823f" stroke="#7a4028" stroke-width="0.5"/>
<text x="462.30" y="415.08" font-size="4.1" fill="#861c06" font-weight="bold" textLength="23.00" lengthAdjust="spacingAndGlyphs">Modelo relacional</text>
<rect x="467.00" y="426.30" width="16.60" height="7.00" rx="1.2" fill="#a8582c" opacity="0.75"/>
<rect x="466.20" y="425.50" width="16.60" height="7.00" rx="1.2" fill="#f4823f" stroke="#7a4028" stroke-width="0.5"/>
<text x="474.50" y="430.48" font-size="4.1" fill="#861c06" font-weight="bold" textLength="12.60" lengthAdjust="spacingAndGlyphs">Objetos</text>
<rect x="486.10" y="426.30" width="22.20" height="7.00" rx="1.2" fill="#a8582c" opacity="0.75"/>
<rect x="485.30" y="425.50" width="22.20" height="7.00" rx="1.2" fill="#f4823f" stroke="#7a4028" stroke-width="0.5"/>
<text x="496.40" y="430.48" font-size="4.1" fill="#861c06" font-weight="bold" textLength="18.20" lengthAdjust="spacingAndGlyphs">Distribuidas</text>
<rect x="497.00" y="410.80" width="25.80" height="7.20" rx="1.2" fill="#a8582c" opacity="0.75"/>
<rect x="496.20" y="410.00" width="25.80" height="7.20" rx="1.2" fill="#f4823f" stroke="#7a4028" stroke-width="0.5"/>
<text x="509.10" y="415.08" font-size="4.1" fill="#861c06" font-weight="bold" textLength="21.80" lengthAdjust="spacingAndGlyphs">Multidimensionales</text>
<line x1="485.00" y1="289.50" x2="471.00" y2="303.60" stroke="#3a3a3a" stroke-width="0.5" stroke-dasharray="1.6 0.9"/>
<path d="M471.00,303.60 L471.77,301.12 L473.47,302.81 Z" fill="#111"/>
<line x1="487.50" y1="289.50" x2="480.00" y2="313.80" stroke="#3a3a3a" stroke-width="0.5" stroke-dasharray="1.6 0.9"/>
<path d="M480.00,313.80 L479.53,311.25 L481.82,311.96 Z" fill="#111"/>
<line x1="491.00" y1="289.50" x2="497.50" y2="313.80" stroke="#3a3a3a" stroke-width="0.5" stroke-dasharray="1.6 0.9"/>
<path d="M497.50,313.80 L495.75,311.89 L498.06,311.27 Z" fill="#111"/>
<line x1="494.00" y1="289.50" x2="509.50" y2="303.60" stroke="#3a3a3a" stroke-width="0.5" stroke-dasharray="1.6 0.9"/>
<path d="M509.50,303.60 L506.99,302.94 L508.61,301.16 Z" fill="#111"/>
<rect x="460.20" y="304.80" width="16.60" height="6.50" rx="1.2" fill="#b88a94" opacity="0.75"/>
<rect x="459.40" y="304.00" width="16.60" height="6.50" rx="1.2" fill="#f5bcc6" stroke="#8e6870" stroke-width="0.5"/>
<text x="467.70" y="308.73" font-size="4.1" fill="#9a1f9c" font-weight="bold" textLength="12.60" lengthAdjust="spacingAndGlyphs">Integridad</text>
<rect x="472.10" y="315.20" width="15.60" height="6.60" rx="1.2" fill="#b88a94" opacity="0.75"/>
<rect x="471.30" y="314.40" width="15.60" height="6.60" rx="1.2" fill="#f5bcc6" stroke="#8e6870" stroke-width="0.5"/>
<text x="479.10" y="319.18" font-size="4.1" fill="#9a1f9c" font-weight="bold" textLength="11.60" lengthAdjust="spacingAndGlyphs">Seguridad</text>
<rect x="491.40" y="315.20" width="16.30" height="6.60" rx="1.2" fill="#b88a94" opacity="0.75"/>
<rect x="490.60" y="314.40" width="16.30" height="6.60" rx="1.2" fill="#f5bcc6" stroke="#8e6870" stroke-width="0.5"/>
<text x="498.75" y="319.18" font-size="4.1" fill="#9a1f9c" font-weight="bold" textLength="12.30" lengthAdjust="spacingAndGlyphs">Eficiencia</text>
<rect x="503.60" y="305.20" width="14.70" height="6.10" rx="1.2" fill="#b88a94" opacity="0.75"/>
<rect x="502.80" y="304.40" width="14.70" height="6.10" rx="1.2" fill="#f5bcc6" stroke="#8e6870" stroke-width="0.5"/>
<text x="510.15" y="308.93" font-size="4.1" fill="#9a1f9c" font-weight="bold" textLength="10.70" lengthAdjust="spacingAndGlyphs">Sencillez</text>
<line x1="551.00" y1="289.50" x2="551.00" y2="303.60" stroke="#3a3a3a" stroke-width="0.5" stroke-dasharray="1.6 0.9"/>
<path d="M551.00,303.60 L549.80,301.30 L552.20,301.30 Z" fill="#111"/>
<rect x="534.20" y="304.90" width="36.20" height="6.50" rx="1.2" fill="#b88a94" opacity="0.75"/>
<rect x="533.40" y="304.10" width="36.20" height="6.50" rx="1.2" fill="#f5bcc6" stroke="#8e6870" stroke-width="0.5"/>
<text x="551.50" y="308.83" font-size="4.1" fill="#9a1f9c" font-weight="bold" textLength="32.20" lengthAdjust="spacingAndGlyphs">Tipos de Bases de Datos</text>
<line x1="551.00" y1="310.60" x2="551.00" y2="326.00" stroke="#3a3a3a" stroke-width="0.5" stroke-dasharray="1.6 0.9" opacity="0.35"/>
<text x="551.20" y="329.15" font-size="4.3" fill="#111" font-weight="bold" textLength="25.90" lengthAdjust="spacingAndGlyphs">clasificadas según su</text>
<text x="551.20" y="333.95" font-size="4.3" fill="#111" font-weight="bold" textLength="3.80" lengthAdjust="spacingAndGlyphs">uso</text>
<line x1="546.00" y1="334.00" x2="519.50" y2="348.60" stroke="#3a3a3a" stroke-width="0.5" stroke-dasharray="1.6 0.9"/>
<path d="M519.50,348.60 L520.94,346.44 L522.09,348.54 Z" fill="#111"/>
<line x1="548.00" y1="335.00" x2="530.50" y2="360.30" stroke="#3a3a3a" stroke-width="0.5" stroke-dasharray="1.6 0.9"/>
<path d="M530.50,360.30 L530.82,357.73 L532.80,359.09 Z" fill="#111"/>
<line x1="549.30" y1="335.50" x2="538.00" y2="375.80" stroke="#3a3a3a" stroke-width="0.5" stroke-dasharray="1.6 0.9"/>
<path d="M538.00,375.80 L537.47,373.26 L539.78,373.91 Z" fill="#111"/>
<line x1="551.00" y1="335.50" x2="552.50" y2="394.20" stroke="#3a3a3a" stroke-width="0.5" stroke-dasharray="1.6 0.9"/>
<path d="M552.50,394.20 L551.24,391.93 L553.64,391.87 Z" fill="#111"/>
<line x1="552.80" y1="335.50" x2="563.50" y2="375.80" stroke="#3a3a3a" stroke-width="0.5" stroke-dasharray="1.6 0.9"/>
<path d="M563.50,375.80 L561.75,373.88 L564.07,373.27 Z" fill="#111"/>
<line x1="554.30" y1="335.00" x2="571.50" y2="359.60" stroke="#3a3a3a" stroke-width="0.5" stroke-dasharray="1.6 0.9"/>
<path d="M571.50,359.60 L569.20,358.40 L571.17,357.03 Z" fill="#111"/>
<line x1="556.00" y1="334.00" x2="590.50" y2="348.60" stroke="#3a3a3a" stroke-width="0.5" stroke-dasharray="1.6 0.9"/>
<path d="M590.50,348.60 L587.91,348.81 L588.85,346.60 Z" fill="#111"/>
<rect x="515.30" y="350.00" width="9.50" height="6.50" rx="1.2" fill="#b59a4a" opacity="0.75"/>
<rect x="514.50" y="349.20" width="9.50" height="6.50" rx="1.2" fill="#ffdc6e" stroke="#9a8240" stroke-width="0.5"/>
<text x="519.25" y="353.93" font-size="4.1" fill="#1a1200" font-weight="bold" textLength="5.50" lengthAdjust="spacingAndGlyphs">Red</text>
<rect x="522.80" y="361.70" width="16.90" height="6.20" rx="1.2" fill="#b59a4a" opacity="0.75"/>
<rect x="522.00" y="360.90" width="16.90" height="6.20" rx="1.2" fill="#ffdc6e" stroke="#9a8240" stroke-width="0.5"/>
<text x="530.45" y="365.48" font-size="4.1" fill="#1a1200" font-weight="bold" textLength="12.90" lengthAdjust="spacingAndGlyphs">Jerárquica</text>
<rect x="526.70" y="377.20" width="23.30" height="11.40" rx="1.2" fill="#b59a4a" opacity="0.75"/>
<rect x="525.90" y="376.40" width="23.30" height="11.40" rx="1.2" fill="#ffdc6e" stroke="#9a8240" stroke-width="0.5"/>
<text x="537.55" y="381.13" font-size="4.1" fill="#1a1200" font-weight="bold" textLength="19.30" lengthAdjust="spacingAndGlyphs">Transmisión de</text>
<text x="537.55" y="386.03" font-size="4.1" fill="#1a1200" font-weight="bold" textLength="17.98" lengthAdjust="spacingAndGlyphs">la información</text>
<rect x="544.20" y="395.40" width="20.10" height="6.60" rx="1.2" fill="#b59a4a" opacity="0.75"/>
<rect x="543.40" y="394.60" width="20.10" height="6.60" rx="1.2" fill="#ffdc6e" stroke="#9a8240" stroke-width="0.5"/>
<text x="553.45" y="399.38" font-size="4.1" fill="#1a1200" font-weight="bold" textLength="16.10" lengthAdjust="spacingAndGlyphs">Documentales</text>
<rect x="555.20" y="377.20" width="18.40" height="12.10" rx="1.2" fill="#b59a4a" opacity="0.75"/>
<rect x="554.40" y="376.40" width="18.40" height="12.10" rx="1.2" fill="#ffdc6e" stroke="#9a8240" stroke-width="0.5"/>
<text x="563.60" y="381.48" font-size="4.1" fill="#1a1200" font-weight="bold" textLength="14.40" lengthAdjust="spacingAndGlyphs">Orientadas</text>
<text x="563.60" y="386.38" font-size="4.1" fill="#1a1200" font-weight="bold" textLength="12.10" lengthAdjust="spacingAndGlyphs">a objetos</text>
<rect x="565.60" y="361.00" width="14.90" height="12.00" rx="1.2" fill="#b59a4a" opacity="0.75"/>
<rect x="564.80" y="360.20" width="14.90" height="12.00" rx="1.2" fill="#ffdc6e" stroke="#9a8240" stroke-width="0.5"/>
<text x="572.25" y="365.23" font-size="4.1" fill="#1a1200" font-weight="bold" textLength="10.90" lengthAdjust="spacingAndGlyphs">Según el</text>
<text x="572.25" y="370.13" font-size="4.1" fill="#1a1200" font-weight="bold" textLength="9.45" lengthAdjust="spacingAndGlyphs">usuario</text>
<rect x="583.70" y="350.00" width="16.20" height="6.50" rx="1.2" fill="#b59a4a" opacity="0.75"/>
<rect x="582.90" y="349.20" width="16.20" height="6.50" rx="1.2" fill="#ffdc6e" stroke="#9a8240" stroke-width="0.5"/>
<text x="591.00" y="353.93" font-size="4.1" fill="#1a1200" font-weight="bold" textLength="12.20" lengthAdjust="spacingAndGlyphs">Relacional</text>
<path d="M559,402 C764.4,541.1 889.1,478.8 1034.8,290.6" fill="none" stroke="#3a3a3a" stroke-width="0.5" stroke-dasharray="1.6 0.9" opacity="0.7"/>
<line x1="627.50" y1="289.50" x2="627.50" y2="303.30" stroke="#3a3a3a" stroke-width="0.5" stroke-dasharray="1.6 0.9"/>
<path d="M627.50,303.30 L626.30,301.00 L628.70,301.00 Z" fill="#111"/>
<rect x="617.10" y="304.80" width="23.60" height="11.80" rx="1.2" fill="#b88a94" opacity="0.75"/>
<rect x="616.30" y="304.00" width="23.60" height="11.80" rx="1.2" fill="#f5bcc6" stroke="#8e6870" stroke-width="0.5"/>
<text x="628.10" y="308.93" font-size="4.1" fill="#9a1f9c" font-weight="bold" textLength="19.60" lengthAdjust="spacingAndGlyphs">Elementos de la</text>
<text x="628.10" y="313.83" font-size="4.1" fill="#9a1f9c" font-weight="bold" textLength="14.73" lengthAdjust="spacingAndGlyphs">información</text>
<line x1="627.60" y1="315.80" x2="627.60" y2="326.50" stroke="#3a3a3a" stroke-width="0.5" stroke-dasharray="1.6 0.9" opacity="0.35"/>
<text x="627.80" y="329.75" font-size="4.3" fill="#111" font-weight="bold" textLength="27.80" lengthAdjust="spacingAndGlyphs">que según el nivel</text>
<text x="627.80" y="334.85" font-size="4.3" fill="#111" font-weight="bold" textLength="41.80" lengthAdjust="spacingAndGlyphs">de abstracción se clasifican en</text>
<line x1="624.50" y1="336.50" x2="612.80" y2="348.60" stroke="#3a3a3a" stroke-width="0.5" stroke-dasharray="1.6 0.9"/>
<path d="M612.80,348.60 L613.54,346.11 L615.26,347.78 Z" fill="#111"/>
<line x1="626.00" y1="336.50" x2="621.00" y2="360.30" stroke="#3a3a3a" stroke-width="0.5" stroke-dasharray="1.6 0.9"/>
<path d="M621.00,360.30 L620.30,357.80 L622.65,358.30 Z" fill="#111"/>
<line x1="628.00" y1="336.50" x2="629.80" y2="375.80" stroke="#3a3a3a" stroke-width="0.5" stroke-dasharray="1.6 0.9"/>
<path d="M629.80,375.80 L628.50,373.56 L630.89,373.45 Z" fill="#111"/>
<line x1="629.50" y1="336.50" x2="637.50" y2="360.30" stroke="#3a3a3a" stroke-width="0.5" stroke-dasharray="1.6 0.9"/>
<path d="M637.50,360.30 L635.63,358.50 L637.90,357.74 Z" fill="#111"/>
<line x1="631.50" y1="336.50" x2="647.50" y2="348.60" stroke="#3a3a3a" stroke-width="0.5" stroke-dasharray="1.6 0.9"/>
<path d="M647.50,348.60 L644.94,348.17 L646.39,346.26 Z" fill="#111"/>
<rect x="608.30" y="350.00" width="10.60" height="6.50" rx="1.2" fill="#b59a4a" opacity="0.75"/>
<rect x="607.50" y="349.20" width="10.60" height="6.50" rx="1.2" fill="#ffdc6e" stroke="#9a8240" stroke-width="0.5"/>
<text x="612.80" y="353.93" font-size="4.1" fill="#1a1200" font-weight="bold" textLength="6.60" lengthAdjust="spacingAndGlyphs">SGBD</text>
<rect x="617.10" y="361.70" width="9.30" height="6.50" rx="1.2" fill="#b59a4a" opacity="0.75"/>
<rect x="616.30" y="360.90" width="9.30" height="6.50" rx="1.2" fill="#ffdc6e" stroke="#9a8240" stroke-width="0.5"/>
<text x="620.95" y="365.63" font-size="4.1" fill="#1a1200" font-weight="bold" textLength="5.30" lengthAdjust="spacingAndGlyphs">Vistas</text>
<rect x="625.40" y="377.20" width="10.80" height="5.90" rx="1.2" fill="#b59a4a" opacity="0.75"/>
<rect x="624.60" y="376.40" width="10.80" height="5.90" rx="1.2" fill="#ffdc6e" stroke="#9a8240" stroke-width="0.5"/>
<text x="630.00" y="380.83" font-size="4.1" fill="#1a1200" font-weight="bold" textLength="6.80" lengthAdjust="spacingAndGlyphs">Datos</text>
<rect x="633.60" y="361.70" width="9.70" height="6.50" rx="1.2" fill="#b59a4a" opacity="0.75"/>
<rect x="632.80" y="360.90" width="9.70" height="6.50" rx="1.2" fill="#ffdc6e" stroke="#9a8240" stroke-width="0.5"/>
<text x="637.65" y="365.63" font-size="4.1" fill="#1a1200" font-weight="bold" textLength="5.70" lengthAdjust="spacingAndGlyphs">Tabla</text>
<rect x="643.50" y="350.00" width="9.60" height="6.50" rx="1.2" fill="#b59a4a" opacity="0.75"/>
<rect x="642.70" y="349.20" width="9.60" height="6.50" rx="1.2" fill="#ffdc6e" stroke="#9a8240" stroke-width="0.5"/>
<text x="647.50" y="353.93" font-size="4.1" fill="#1a1200" font-weight="bold" textLength="5.60" lengthAdjust="spacingAndGlyphs">DBA</text>
<line x1="676.20" y1="284.50" x2="676.20" y2="303.60" stroke="#3a3a3a" stroke-width="0.5" stroke-dasharray="1.6 0.9"/>
<path d="M676.20,303.60 L675.00,301.30 L677.40,301.30 Z" fill="#111"/>
<rect x="671.20" y="304.90" width="11.40" height="6.50" rx="1.2" fill="#b88a94" opacity="0.75"/>
<rect x="670.40" y="304.10" width="11.40" height="6.50" rx="1.2" fill="#f5bcc6" stroke="#8e6870" stroke-width="0.5"/>
<text x="676.10" y="308.83" font-size="4.1" fill="#9a1f9c" font-weight="bold" textLength="7.40" lengthAdjust="spacingAndGlyphs">Usos</text>
<line x1="676.20" y1="310.60" x2="676.20" y2="327.00" stroke="#3a3a3a" stroke-width="0.5" stroke-dasharray="1.6 0.9"/>
<text x="676.20" y="330.05" font-size="4.3" fill="#111" font-weight="bold" textLength="18.50" lengthAdjust="spacingAndGlyphs">en función de</text>
<line x1="674.00" y1="331.30" x2="666.00" y2="348.60" stroke="#3a3a3a" stroke-width="0.5" stroke-dasharray="1.6 0.9"/>
<path d="M666.00,348.60 L665.88,346.01 L668.05,347.02 Z" fill="#111"/>
<line x1="678.50" y1="331.30" x2="686.00" y2="348.60" stroke="#3a3a3a" stroke-width="0.5" stroke-dasharray="1.6 0.9"/>
<path d="M686.00,348.60 L683.98,346.97 L686.19,346.01 Z" fill="#111"/>
<rect x="659.00" y="350.00" width="15.20" height="6.50" rx="1.2" fill="#b59a4a" opacity="0.75"/>
<rect x="658.20" y="349.20" width="15.20" height="6.50" rx="1.2" fill="#ffdc6e" stroke="#9a8240" stroke-width="0.5"/>
<text x="665.80" y="353.93" font-size="4.1" fill="#1a1200" font-weight="bold" textLength="11.20" lengthAdjust="spacingAndGlyphs">Negocio</text>
<rect x="676.80" y="350.00" width="20.70" height="6.50" rx="1.2" fill="#b59a4a" opacity="0.75"/>
<rect x="676.00" y="349.20" width="20.70" height="6.50" rx="1.2" fill="#ffdc6e" stroke="#9a8240" stroke-width="0.5"/>
<text x="686.35" y="353.93" font-size="4.1" fill="#1a1200" font-weight="bold" textLength="16.70" lengthAdjust="spacingAndGlyphs">Aplicaciones</text>
<rect x="816.10" y="254.30" width="51.20" height="7.10" rx="1.2" fill="#7aa88c" opacity="0.75"/>
<rect x="815.30" y="253.50" width="51.20" height="7.10" rx="1.2" fill="#aee8c8" stroke="#5a8a6c" stroke-width="0.5"/>
<text x="840.90" y="258.53" font-size="4.1" fill="#1a4f28" font-weight="bold" textLength="47.20" lengthAdjust="spacingAndGlyphs">Sistemas Gestores de Bases de Datos</text>
<line x1="834.00" y1="261.00" x2="777.00" y2="279.50" stroke="#3a3a3a" stroke-width="0.5" stroke-dasharray="1.6 0.9"/>
<line x1="841.00" y1="261.00" x2="841.00" y2="279.50" stroke="#3a3a3a" stroke-width="0.5" stroke-dasharray="1.6 0.9"/>
<line x1="846.00" y1="261.00" x2="878.00" y2="279.50" stroke="#3a3a3a" stroke-width="0.5" stroke-dasharray="1.6 0.9"/>
<text x="772.00" y="282.95" font-size="4.3" fill="#111" font-weight="bold" textLength="21.00" lengthAdjust="spacingAndGlyphs">pueden ser</text>
<text x="772.00" y="287.95" font-size="4.3" fill="#111" font-weight="bold" textLength="16.50" lengthAdjust="spacingAndGlyphs">clasificados</text>
<text x="841.10" y="282.95" font-size="4.3" fill="#111" font-weight="bold" textLength="20.00" lengthAdjust="spacingAndGlyphs">realizan</text>
<text x="841.10" y="287.95" font-size="4.3" fill="#111" font-weight="bold" textLength="22.30" lengthAdjust="spacingAndGlyphs">funciones de</text>
<text x="880.00" y="282.95" font-size="4.3" fill="#111" font-weight="bold" textLength="19.60" lengthAdjust="spacingAndGlyphs">utilizan una</text>
<text x="880.00" y="287.95" font-size="4.3" fill="#111" font-weight="bold" textLength="22.50" lengthAdjust="spacingAndGlyphs">versión propia</text>
<line x1="766.50" y1="290.00" x2="733.00" y2="303.60" stroke="#3a3a3a" stroke-width="0.5" stroke-dasharray="1.6 0.9"/>
<path d="M733.00,303.60 L734.68,301.62 L735.58,303.85 Z" fill="#111"/>
<line x1="768.50" y1="290.00" x2="756.00" y2="303.60" stroke="#3a3a3a" stroke-width="0.5" stroke-dasharray="1.6 0.9"/>
<path d="M756.00,303.60 L756.67,301.09 L758.44,302.72 Z" fill="#111"/>
<line x1="772.00" y1="290.00" x2="779.50" y2="303.60" stroke="#3a3a3a" stroke-width="0.5" stroke-dasharray="1.6 0.9"/>
<path d="M779.50,303.60 L777.34,302.17 L779.44,301.01 Z" fill="#111"/>
<line x1="775.00" y1="290.00" x2="802.50" y2="303.60" stroke="#3a3a3a" stroke-width="0.5" stroke-dasharray="1.6 0.9"/>
<path d="M802.50,303.60 L799.91,303.66 L800.97,301.50 Z" fill="#111"/>
<rect x="725.10" y="304.90" width="16.50" height="6.50" rx="1.2" fill="#b88a94" opacity="0.75"/>
<rect x="724.30" y="304.10" width="16.50" height="6.50" rx="1.2" fill="#f5bcc6" stroke="#8e6870" stroke-width="0.5"/>
<text x="732.55" y="308.83" font-size="4.1" fill="#9a1f9c" font-weight="bold" textLength="12.50" lengthAdjust="spacingAndGlyphs">Funciones</text>
<rect x="745.80" y="304.90" width="20.80" height="6.50" rx="1.2" fill="#b88a94" opacity="0.75"/>
<rect x="745.00" y="304.10" width="20.80" height="6.50" rx="1.2" fill="#f5bcc6" stroke="#8e6870" stroke-width="0.5"/>
<text x="755.40" y="308.83" font-size="4.1" fill="#9a1f9c" font-weight="bold" textLength="16.80" lengthAdjust="spacingAndGlyphs">Prestaciones</text>
<rect x="775.00" y="304.90" width="10.80" height="6.50" rx="1.2" fill="#b88a94" opacity="0.75"/>
<rect x="774.20" y="304.10" width="10.80" height="6.50" rx="1.2" fill="#f5bcc6" stroke="#8e6870" stroke-width="0.5"/>
<text x="779.60" y="308.83" font-size="4.1" fill="#9a1f9c" font-weight="bold" textLength="6.80" lengthAdjust="spacingAndGlyphs">Tipos</text>
<rect x="793.40" y="304.90" width="22.40" height="6.50" rx="1.2" fill="#b88a94" opacity="0.75"/>
<rect x="792.60" y="304.10" width="22.40" height="6.50" rx="1.2" fill="#f5bcc6" stroke="#8e6870" stroke-width="0.5"/>
<text x="803.80" y="308.83" font-size="4.1" fill="#9a1f9c" font-weight="bold" textLength="18.40" lengthAdjust="spacingAndGlyphs">Componentes</text>
<line x1="841.00" y1="290.00" x2="841.00" y2="303.60" stroke="#3a3a3a" stroke-width="0.5" stroke-dasharray="1.6 0.9"/>
<path d="M841.00,303.60 L839.80,301.30 L842.20,301.30 Z" fill="#111"/>
<rect x="832.40" y="304.90" width="19.10" height="6.50" rx="1.2" fill="#b88a94" opacity="0.75"/>
<rect x="831.60" y="304.10" width="19.10" height="6.50" rx="1.2" fill="#f5bcc6" stroke="#8e6870" stroke-width="0.5"/>
<text x="841.15" y="308.83" font-size="4.1" fill="#9a1f9c" font-weight="bold" textLength="15.10" lengthAdjust="spacingAndGlyphs">DDL DML</text>
<line x1="880.00" y1="290.00" x2="880.00" y2="303.40" stroke="#3a3a3a" stroke-width="0.5" stroke-dasharray="1.6 0.9"/>
<path d="M880.00,303.40 L878.80,301.10 L881.20,301.10 Z" fill="#111"/>
<line x1="911.50" y1="290.00" x2="881.50" y2="303.40" stroke="#3a3a3a" stroke-width="0.5" stroke-dasharray="1.6 0.9"/>
<rect x="866.80" y="304.80" width="27.80" height="6.60" rx="1.2" fill="#b88a94" opacity="0.75"/>
<rect x="866.00" y="304.00" width="27.80" height="6.60" rx="1.2" fill="#f5bcc6" stroke="#8e6870" stroke-width="0.5"/>
<text x="879.90" y="308.78" font-size="4.1" fill="#9a1f9c" font-weight="bold" textLength="23.80" lengthAdjust="spacingAndGlyphs">SQL estándar</text>
<line x1="732.80" y1="310.60" x2="732.80" y2="327.00" stroke="#3a3a3a" stroke-width="0.5" stroke-dasharray="1.6 0.9"/>
<text x="732.50" y="330.05" font-size="4.3" fill="#111" font-weight="bold" textLength="22.40" lengthAdjust="spacingAndGlyphs">clasificadas</text>
<line x1="730.00" y1="331.30" x2="717.00" y2="348.60" stroke="#3a3a3a" stroke-width="0.5" stroke-dasharray="1.6 0.9"/>
<path d="M717.00,348.60 L717.42,346.04 L719.34,347.48 Z" fill="#111"/>
<line x1="733.00" y1="331.30" x2="733.60" y2="361.30" stroke="#3a3a3a" stroke-width="0.5" stroke-dasharray="1.6 0.9" opacity="0.5"/>
<path d="M733.60,361.30 L732.35,359.02 L734.75,358.98 Z" fill="#111"/>
<line x1="736.00" y1="331.30" x2="750.00" y2="348.60" stroke="#3a3a3a" stroke-width="0.5" stroke-dasharray="1.6 0.9"/>
<path d="M750.00,348.60 L747.62,347.57 L749.49,346.06 Z" fill="#111"/>
<rect x="709.20" y="350.00" width="17.20" height="6.50" rx="1.2" fill="#b59a4a" opacity="0.75"/>
<rect x="708.40" y="349.20" width="17.20" height="6.50" rx="1.2" fill="#ffdc6e" stroke="#9a8240" stroke-width="0.5"/>
<text x="717.00" y="353.93" font-size="4.1" fill="#1a1200" font-weight="bold" textLength="13.20" lengthAdjust="spacingAndGlyphs">Definición</text>
<rect x="723.80" y="362.70" width="21.30" height="7.40" rx="1.2" fill="#b59a4a" opacity="0.75"/>
<rect x="723.00" y="361.90" width="21.30" height="7.40" rx="1.2" fill="#ffdc6e" stroke="#9a8240" stroke-width="0.5"/>
<text x="733.65" y="367.08" font-size="4.1" fill="#1a1200" font-weight="bold" textLength="17.30" lengthAdjust="spacingAndGlyphs">Manipulación</text>
<rect x="744.50" y="350.00" width="12.60" height="6.50" rx="1.2" fill="#b59a4a" opacity="0.75"/>
<rect x="743.70" y="349.20" width="12.60" height="6.50" rx="1.2" fill="#ffdc6e" stroke="#9a8240" stroke-width="0.5"/>
<text x="750.00" y="353.93" font-size="4.1" fill="#1a1200" font-weight="bold" textLength="8.60" lengthAdjust="spacingAndGlyphs">Control</text>
<line x1="803.80" y1="310.60" x2="803.80" y2="327.00" stroke="#3a3a3a" stroke-width="0.5" stroke-dasharray="1.6 0.9" opacity="0.35"/>
<text x="803.80" y="330.05" font-size="4.3" fill="#111" font-weight="bold" textLength="14.90" lengthAdjust="spacingAndGlyphs">usuarios</text>
<line x1="800.00" y1="331.30" x2="778.50" y2="348.60" stroke="#3a3a3a" stroke-width="0.5" stroke-dasharray="1.6 0.9"/>
<path d="M778.50,348.60 L779.54,346.22 L781.04,348.09 Z" fill="#111"/>
<line x1="802.00" y1="332.00" x2="792.00" y2="362.00" stroke="#3a3a3a" stroke-width="0.5" stroke-dasharray="1.6 0.9"/>
<path d="M792.00,362.00 L791.59,359.44 L793.87,360.20 Z" fill="#111"/>
<line x1="804.00" y1="332.00" x2="804.50" y2="375.60" stroke="#3a3a3a" stroke-width="0.5" stroke-dasharray="1.6 0.9"/>
<path d="M804.50,375.60 L803.27,373.31 L805.67,373.29 Z" fill="#111"/>
<line x1="806.00" y1="332.00" x2="816.50" y2="362.00" stroke="#3a3a3a" stroke-width="0.5" stroke-dasharray="1.6 0.9"/>
<path d="M816.50,362.00 L814.61,360.23 L816.87,359.43 Z" fill="#111"/>
<line x1="808.00" y1="331.30" x2="832.00" y2="348.60" stroke="#3a3a3a" stroke-width="0.5" stroke-dasharray="1.6 0.9"/>
<path d="M832.00,348.60 L829.43,348.23 L830.84,346.28 Z" fill="#111"/>
<rect x="768.80" y="350.00" width="17.30" height="6.80" rx="1.2" fill="#b59a4a" opacity="0.75"/>
<rect x="768.00" y="349.20" width="17.30" height="6.80" rx="1.2" fill="#ffdc6e" stroke="#9a8240" stroke-width="0.5"/>
<text x="776.65" y="354.08" font-size="4.1" fill="#1a1200" font-weight="bold" textLength="13.30" lengthAdjust="spacingAndGlyphs">Lenguajes</text>
<rect x="784.10" y="363.40" width="15.80" height="6.70" rx="1.2" fill="#b59a4a" opacity="0.75"/>
<rect x="783.30" y="362.60" width="15.80" height="6.70" rx="1.2" fill="#ffdc6e" stroke="#9a8240" stroke-width="0.5"/>
<text x="791.20" y="367.43" font-size="4.1" fill="#1a1200" font-weight="bold" textLength="11.80" lengthAdjust="spacingAndGlyphs">Usuarios</text>
<rect x="795.50" y="377.00" width="19.10" height="11.60" rx="1.2" fill="#b59a4a" opacity="0.75"/>
<rect x="794.70" y="376.20" width="19.10" height="11.60" rx="1.2" fill="#ffdc6e" stroke="#9a8240" stroke-width="0.5"/>
<text x="804.25" y="381.03" font-size="4.1" fill="#1a1200" font-weight="bold" textLength="15.10" lengthAdjust="spacingAndGlyphs">Diccionario</text>
<text x="804.25" y="385.93" font-size="4.1" fill="#1a1200" font-weight="bold" textLength="11.40" lengthAdjust="spacingAndGlyphs">de datos</text>
<rect x="807.00" y="363.40" width="21.80" height="6.70" rx="1.2" fill="#b59a4a" opacity="0.75"/>
<rect x="806.20" y="362.60" width="21.80" height="6.70" rx="1.2" fill="#ffdc6e" stroke="#9a8240" stroke-width="0.5"/>
<text x="817.10" y="367.43" font-size="4.1" fill="#1a1200" font-weight="bold" textLength="17.80" lengthAdjust="spacingAndGlyphs">Herramientas</text>
<rect x="823.40" y="350.00" width="22.90" height="11.40" rx="1.2" fill="#b59a4a" opacity="0.75"/>
<rect x="822.60" y="349.20" width="22.90" height="11.40" rx="1.2" fill="#ffdc6e" stroke="#9a8240" stroke-width="0.5"/>
<text x="834.05" y="353.93" font-size="4.1" fill="#1a1200" font-weight="bold" textLength="15.85" lengthAdjust="spacingAndGlyphs">Gestor de la</text>
<text x="834.05" y="358.83" font-size="4.1" fill="#1a1200" font-weight="bold" textLength="18.90" lengthAdjust="spacingAndGlyphs">Base de Datos</text>
<text x="939.40" y="232.85" font-size="4.3" fill="#111" font-weight="bold" textLength="39.00" lengthAdjust="spacingAndGlyphs">precisamos una herramienta</text>
<text x="939.40" y="238.25" font-size="4.3" fill="#111" font-weight="bold" textLength="29.80" lengthAdjust="spacingAndGlyphs">para su gestión</text>
<line x1="939.40" y1="240.00" x2="939.40" y2="252.00" stroke="#3a3a3a" stroke-width="0.5" stroke-dasharray="1.6 0.9"/>
<path d="M939.40,252.00 L938.20,249.70 L940.60,249.70 Z" fill="#111"/>
<rect x="918.90" y="253.30" width="43.20" height="13.10" rx="1.2" fill="#7aa88c" opacity="0.75"/>
<rect x="918.10" y="252.50" width="43.20" height="13.10" rx="1.2" fill="#aee8c8" stroke="#5a8a6c" stroke-width="0.5"/>
<text x="939.70" y="258.08" font-size="4.1" fill="#1a4f28" font-weight="bold" textLength="32.52" lengthAdjust="spacingAndGlyphs">Primera versión de SGBD</text>
<text x="939.70" y="262.98" font-size="4.1" fill="#1a4f28" font-weight="bold" textLength="39.20" lengthAdjust="spacingAndGlyphs">Database Management System</text>
<line x1="914.00" y1="279.50" x2="936.00" y2="266.20" stroke="#3a3a3a" stroke-width="0.5" stroke-dasharray="1.6 0.9"/>
<path d="M936.00,266.20 L934.65,268.42 L933.41,266.36 Z" fill="#111"/>
<line x1="941.00" y1="266.00" x2="957.00" y2="279.50" stroke="#3a3a3a" stroke-width="0.5" stroke-dasharray="1.6 0.9"/>
<text x="912.50" y="282.95" font-size="4.3" fill="#111" font-weight="bold" textLength="20.00" lengthAdjust="spacingAndGlyphs">se diferencian</text>
<text x="912.50" y="287.95" font-size="4.3" fill="#111" font-weight="bold" textLength="31.50" lengthAdjust="spacingAndGlyphs">en las aplicaciones de</text>
<text x="957.60" y="282.95" font-size="4.3" fill="#111" font-weight="bold" textLength="15.40" lengthAdjust="spacingAndGlyphs">que 3 son</text>
<text x="957.60" y="287.95" font-size="4.3" fill="#111" font-weight="bold" textLength="19.50" lengthAdjust="spacingAndGlyphs">los tipos de</text>
<line x1="953.50" y1="290.00" x2="936.50" y2="303.60" stroke="#3a3a3a" stroke-width="0.5" stroke-dasharray="1.6 0.9"/>
<path d="M936.50,303.60 L937.55,301.23 L939.05,303.10 Z" fill="#111"/>
<line x1="958.00" y1="290.00" x2="958.00" y2="303.60" stroke="#3a3a3a" stroke-width="0.5" stroke-dasharray="1.6 0.9"/>
<path d="M958.00,303.60 L956.80,301.30 L959.20,301.30 Z" fill="#111"/>
<line x1="962.00" y1="290.00" x2="981.00" y2="303.60" stroke="#3a3a3a" stroke-width="0.5" stroke-dasharray="1.6 0.9"/>
<path d="M981.00,303.60 L978.43,303.24 L979.83,301.29 Z" fill="#111"/>
<rect x="926.10" y="304.80" width="17.80" height="12.00" rx="1.2" fill="#b88a94" opacity="0.75"/>
<rect x="925.30" y="304.00" width="17.80" height="12.00" rx="1.2" fill="#f5bcc6" stroke="#8e6870" stroke-width="0.5"/>
<text x="934.20" y="309.03" font-size="4.1" fill="#9a1f9c" font-weight="bold" textLength="10.34" lengthAdjust="spacingAndGlyphs">Modelo</text>
<text x="934.20" y="313.93" font-size="4.1" fill="#9a1f9c" font-weight="bold" textLength="13.80" lengthAdjust="spacingAndGlyphs">relacional</text>
<rect x="947.70" y="304.80" width="23.10" height="12.00" rx="1.2" fill="#b88a94" opacity="0.75"/>
<rect x="946.90" y="304.00" width="23.10" height="12.00" rx="1.2" fill="#f5bcc6" stroke="#8e6870" stroke-width="0.5"/>
<text x="958.45" y="309.03" font-size="4.1" fill="#9a1f9c" font-weight="bold" textLength="19.10" lengthAdjust="spacingAndGlyphs">Gestor Bases</text>
<text x="958.45" y="313.93" font-size="4.1" fill="#9a1f9c" font-weight="bold" textLength="12.18" lengthAdjust="spacingAndGlyphs">de datos</text>
<rect x="973.10" y="304.80" width="23.00" height="12.00" rx="1.2" fill="#b88a94" opacity="0.75"/>
<rect x="972.30" y="304.00" width="23.00" height="12.00" rx="1.2" fill="#f5bcc6" stroke="#8e6870" stroke-width="0.5"/>
<text x="983.80" y="309.03" font-size="4.1" fill="#9a1f9c" font-weight="bold" textLength="19.00" lengthAdjust="spacingAndGlyphs">Gestor Bases</text>
<text x="983.80" y="313.93" font-size="4.1" fill="#9a1f9c" font-weight="bold" textLength="12.12" lengthAdjust="spacingAndGlyphs">de datos</text>
<text x="1002.10" y="233.85" font-size="4.3" fill="#111" font-weight="bold" textLength="17.00" lengthAdjust="spacingAndGlyphs">necesita su</text>
<text x="1002.10" y="238.85" font-size="4.3" fill="#111" font-weight="bold" textLength="16.60" lengthAdjust="spacingAndGlyphs">manejo por</text>
<line x1="1002.00" y1="240.00" x2="1002.00" y2="253.20" stroke="#3a3a3a" stroke-width="0.5" stroke-dasharray="1.6 0.9" opacity="0.35"/>
<path d="M1002.00,253.20 L1000.80,250.90 L1003.20,250.90 Z" fill="#111"/>
<rect x="981.30" y="254.50" width="42.80" height="7.10" rx="1.2" fill="#7aa88c" opacity="0.75"/>
<rect x="980.50" y="253.70" width="42.80" height="7.10" rx="1.2" fill="#aee8c8" stroke="#5a8a6c" stroke-width="0.5"/>
<text x="1001.90" y="258.73" font-size="4.1" fill="#1a4f28" font-weight="bold" textLength="38.80" lengthAdjust="spacingAndGlyphs">Bases de datos centralizadas</text>
<text x="1070.30" y="233.95" font-size="4.3" fill="#111" font-weight="bold" textLength="18.80" lengthAdjust="spacingAndGlyphs">pueden ser</text>
<text x="1070.30" y="238.95" font-size="4.3" fill="#111" font-weight="bold" textLength="23.60" lengthAdjust="spacingAndGlyphs">consideradas</text>
<line x1="1070.50" y1="240.00" x2="1070.50" y2="253.20" stroke="#3a3a3a" stroke-width="0.5" stroke-dasharray="1.6 0.9" opacity="0.35"/>
<path d="M1070.50,253.20 L1069.30,250.90 L1071.70,250.90 Z" fill="#111"/>
<rect x="1051.30" y="254.50" width="40.30" height="7.10" rx="1.2" fill="#7aa88c" opacity="0.75"/>
<rect x="1050.50" y="253.70" width="40.30" height="7.10" rx="1.2" fill="#aee8c8" stroke="#5a8a6c" stroke-width="0.5"/>
<text x="1070.65" y="258.73" font-size="4.1" fill="#1a4f28" font-weight="bold" textLength="36.30" lengthAdjust="spacingAndGlyphs">Bases de datos distribuidas</text>
<text x="1039.20" y="283.95" font-size="4.3" fill="#111" font-weight="bold" textLength="19.70" lengthAdjust="spacingAndGlyphs">se diferencian</text>
<text x="1039.20" y="288.85" font-size="4.3" fill="#111" font-weight="bold" textLength="14.10" lengthAdjust="spacingAndGlyphs">los datos</text>
<line x1="1031.00" y1="280.50" x2="1005.00" y2="261.60" stroke="#3a3a3a" stroke-width="0.5" stroke-dasharray="1.6 0.9"/>
<path d="M1005.00,261.60 L1007.57,261.98 L1006.15,263.92 Z" fill="#111"/>
<line x1="1046.00" y1="280.50" x2="1068.50" y2="261.60" stroke="#3a3a3a" stroke-width="0.5" stroke-dasharray="1.6 0.9"/>
<path d="M1068.50,261.60 L1067.51,264.00 L1065.97,262.16 Z" fill="#111"/>
<line x1="1071.00" y1="261.20" x2="1086.00" y2="280.50" stroke="#3a3a3a" stroke-width="0.5" stroke-dasharray="1.6 0.9"/>
<text x="1088.00" y="283.95" font-size="4.3" fill="#111" font-weight="bold" textLength="24.10" lengthAdjust="spacingAndGlyphs">se fragmentan en</text>
<line x1="1088.00" y1="285.50" x2="1088.00" y2="303.60" stroke="#3a3a3a" stroke-width="0.5" stroke-dasharray="1.6 0.9" opacity="0.35"/>
<path d="M1088.00,303.60 L1086.80,301.30 L1089.20,301.30 Z" fill="#111"/>
<rect x="1077.90" y="305.10" width="22.90" height="7.40" rx="1.2" fill="#b88a94" opacity="0.75"/>
<rect x="1077.10" y="304.30" width="22.90" height="7.40" rx="1.2" fill="#f5bcc6" stroke="#8e6870" stroke-width="0.5"/>
<text x="1088.55" y="309.48" font-size="4.1" fill="#9a1f9c" font-weight="bold" textLength="18.90" lengthAdjust="spacingAndGlyphs">Fragmentación</text>
</svg>
<div class="rule" style="left:98px;top:71px;width:1016px;height:2px"></div>
<div class="rule" style="left:98px;top:777px;width:1016px;height:1px"></div>
</body>
</html>
